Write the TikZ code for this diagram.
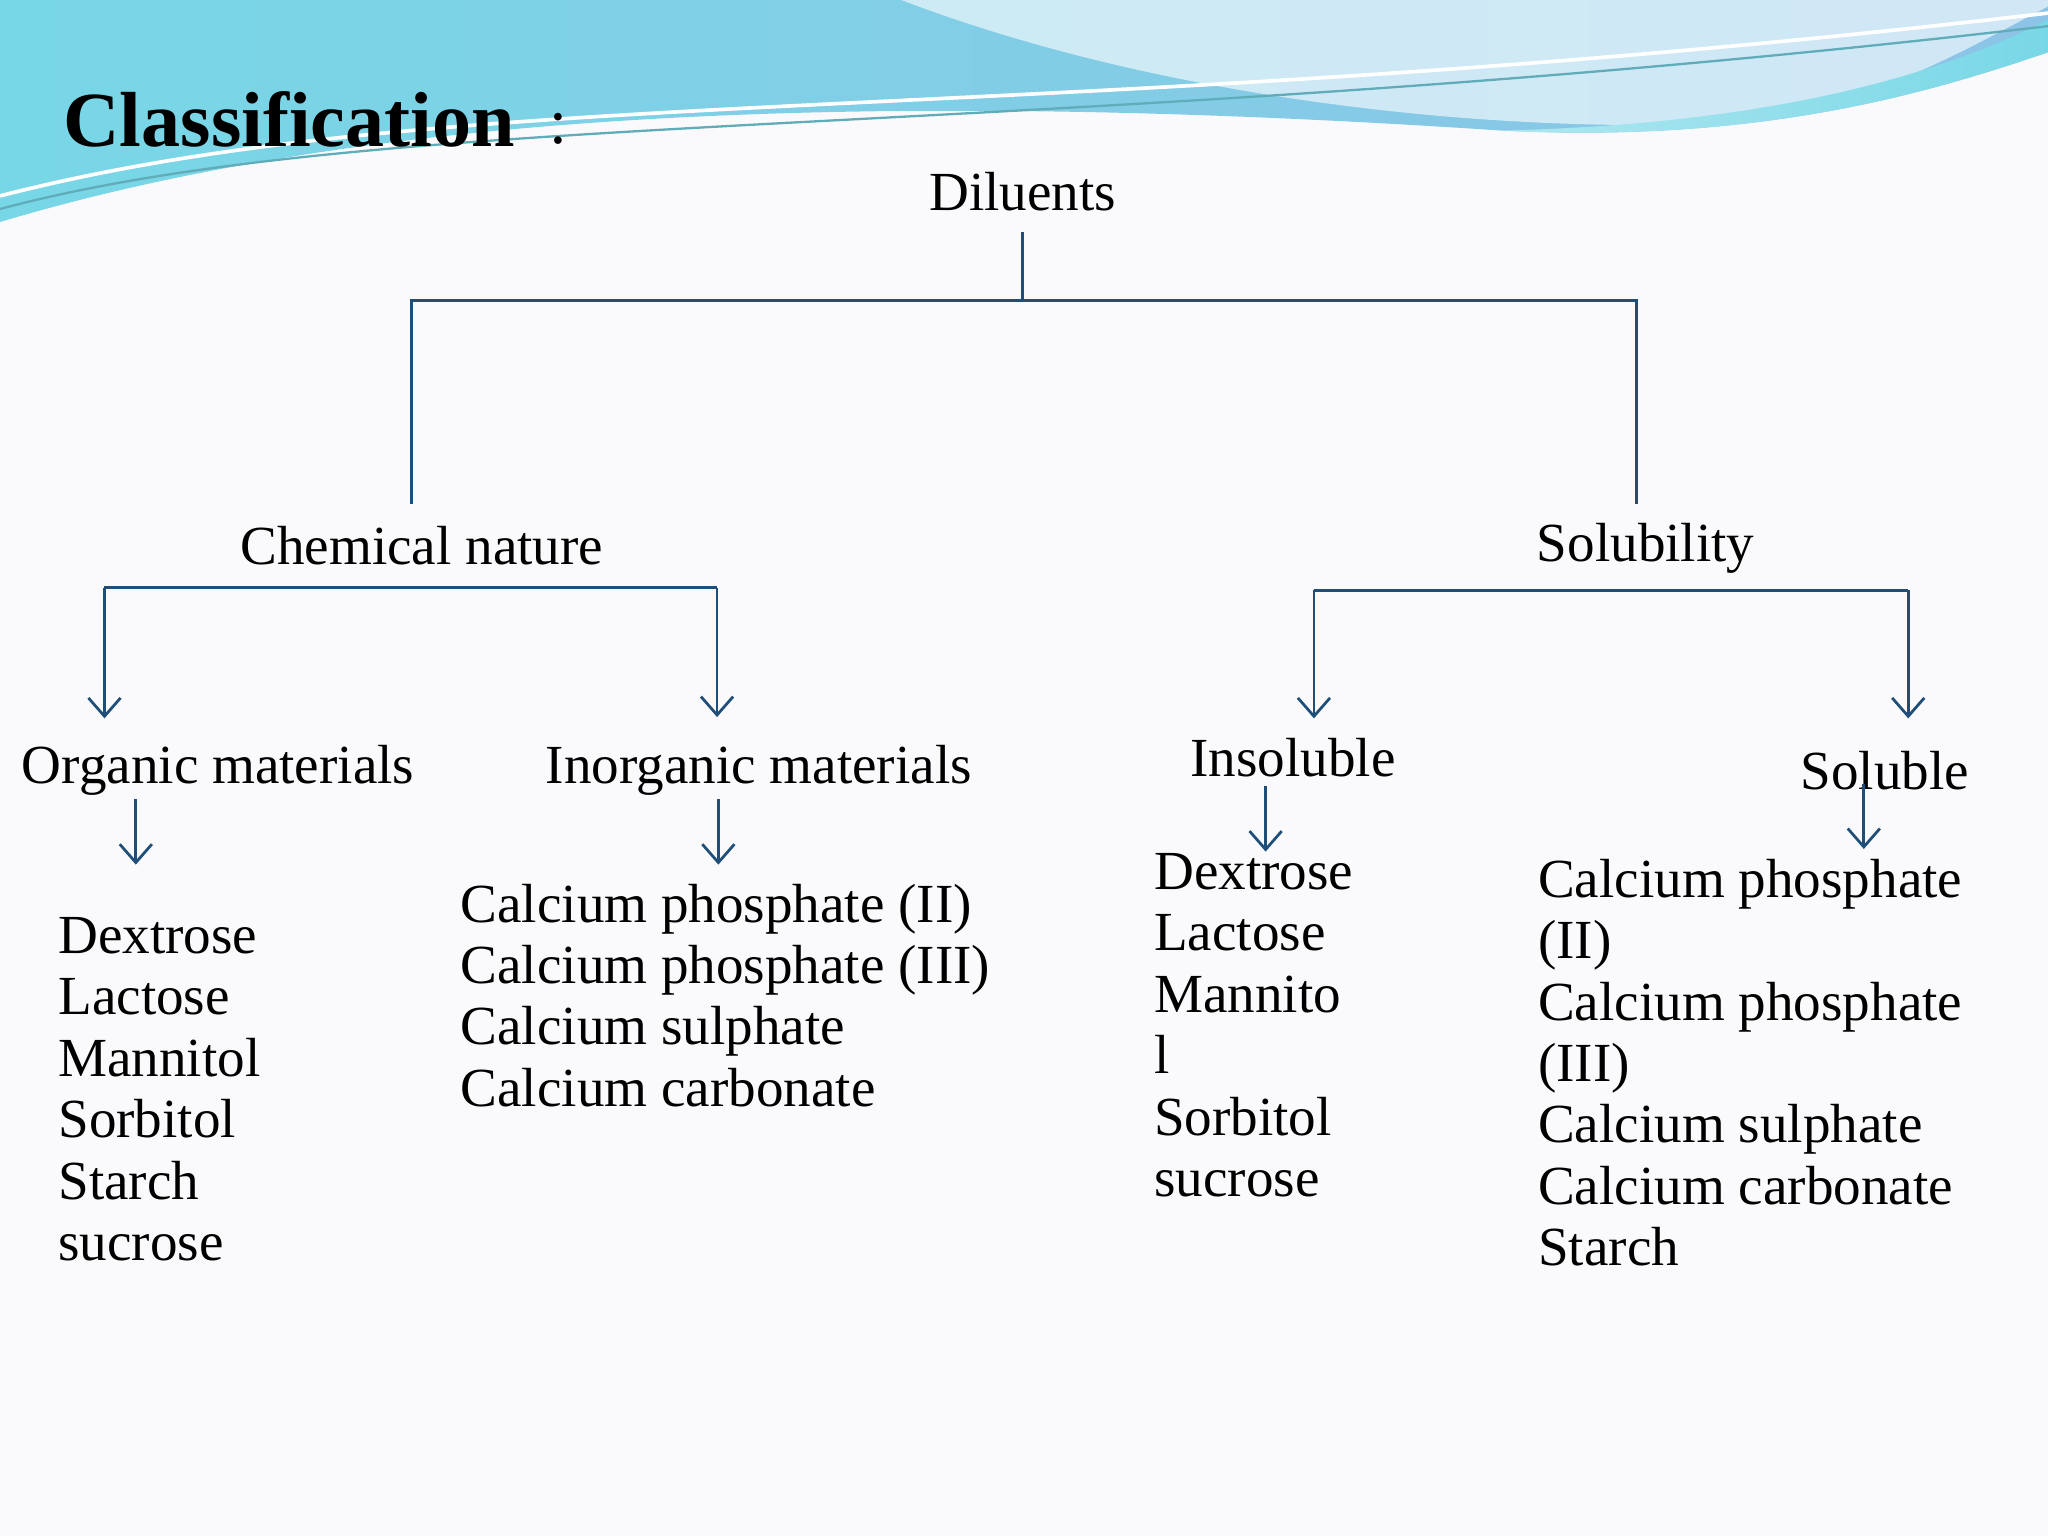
\documentclass[tikz,border=0pt]{standalone}
\usepackage{fontspec}
\setmainfont{Liberation Serif}
\definecolor{ln}{RGB}{31,78,121}
\definecolor{bg}{RGB}{250,250,252}
\definecolor{cy}{RGB}{120,215,230}
\definecolor{bl}{RGB}{140,195,230}
\usetikzlibrary{arrows.meta}
\begin{document}
\begin{tikzpicture}[x=0.01cm,y=-0.01cm,
  lbl/.style={font=\fontsize{12}{14}\selectfont, inner sep=0pt},
  lst/.style={font=\fontsize{12}{13.4}\selectfont, inner sep=0pt, anchor=base west},
  con/.style={draw=ln, line width=0.6pt},
  arr/.style={con, -{Straight Barb[length=4pt,width=7pt]}}]
\fill[bg] (0,0) rectangle (1568,1176);
\useasboundingbox (0,0) rectangle (1568,1176);
% banner
\shade[left color=cy, right color=bl] (0,0) -- (0,170) .. controls (300,80) and (700,70) .. (1150,100) .. controls (1350,110) and (1480,70) .. (1568,40) -- (1568,0) -- cycle;
\fill[white, opacity=0.6] (690,0) .. controls (900,80) and (1150,100) .. (1300,95) .. controls (1420,90) and (1500,40) .. (1568,5) -- (1568,0) -- cycle;
\shade[left color=cy!60, right color=cy] (1150,100) .. controls (1350,110) and (1480,70) .. (1568,40) -- (1568,15) .. controls (1480,60) and (1350,95) .. (1150,100);
\draw[cy!80!black, line width=0.5pt] (0,160) .. controls (300,80) and (800,110) .. (1568,20);
\draw[white, line width=0.8pt] (0,150) .. controls (350,60) and (800,100) .. (1568,10);
% title
\node[anchor=base west, inner sep=0pt, font=\fontsize{17}{20}\selectfont\bfseries] (title) at (48,112) {Classification};
\node[anchor=base west, inner sep=0pt, font=\fontsize{14}{16}\selectfont] (colon) at (420,110) {:};
% nodes
\node[lbl] (dil) at (783,147) {Diluents};
\node[lbl] (chem) at (323,418) {Chemical nature};
\node[lbl] (sol) at (1260,420) {Solubility};
\node[lbl] (org) at (167,590) {Organic materials};
\node[lbl] (inorg) at (581,590) {Inorganic materials};
\node[lbl] (ins) at (990,580) {Insoluble};
\node[lbl] (slb) at (1443,590) {Soluble};
% tree lines
\coordinate (d0) at (783,178); \coordinate (d1) at (783,230);
\coordinate (hl) at (315,230); \coordinate (hr) at (1253,230);
\coordinate (cl) at (315,386); \coordinate (cr) at (1253,386);
\draw[con] (d0) -- (d1);
\draw[con] (cl) -- (hl) -- (hr) -- (cr);
\coordinate (c1) at (80,450); \coordinate (c2) at (549,450);
\coordinate (c1e) at (80,550); \coordinate (c2e) at (549,549);
\draw[con] (c1) -- (c2);
\draw[arr] (c1) -- (c1e); \draw[arr] (c2) -- (c2e);
\coordinate (s1) at (1006,452); \coordinate (s2) at (1461,452);
\coordinate (s1e) at (1006,550); \coordinate (s2e) at (1461,550);
\draw[con] (s1) -- (s2);
\draw[arr] (s1) -- (s1e); \draw[arr] (s2) -- (s2e);
\coordinate (o1) at (104,612); \coordinate (o2) at (104,662);
\draw[arr] (o1) -- (o2);
\coordinate (i1) at (550,612); \coordinate (i2) at (550,662);
\draw[arr] (i1) -- (i2);
\coordinate (n1) at (969,602); \coordinate (n2) at (969,652);
\draw[arr] (n1) -- (n2);
\coordinate (u1) at (1427,600); \coordinate (u2) at (1427,650);
\draw[arr] (u1) -- (u2);
% lists
\node[lst] (l1) at (44,730) {Dextrose};
\node[lst] (l2) at (44,777) {Lactose};
\node[lst] (l3) at (44,824) {Mannitol};
\node[lst] (l4) at (44,871) {Sorbitol};
\node[lst] (l5) at (44,918) {Starch};
\node[lst] (l6) at (44,965) {sucrose};
\node[lst] (m1) at (352,706) {Calcium phosphate (II)};
\node[lst] (m2) at (352,753) {Calcium phosphate (III)};
\node[lst] (m3) at (352,800) {Calcium sulphate};
\node[lst] (m4) at (352,847) {Calcium carbonate};
\node[lst] (n1t) at (883,681) {Dextrose};
\node[lst] (n2t) at (883,728) {Lactose};
\node[lst] (n3t) at (883,775) {Mannito};
\node[lst] (n4t) at (883,822) {l};
\node[lst] (n5t) at (883,869) {Sorbitol};
\node[lst] (n6t) at (883,916) {sucrose};
\node[lst] (p1) at (1177,687) {Calcium phosphate};
\node[lst] (p2) at (1177,734) {(II)};
\node[lst] (p3) at (1177,781) {Calcium phosphate};
\node[lst] (p4) at (1177,828) {(III)};
\node[lst] (p5) at (1177,875) {Calcium sulphate};
\node[lst] (p6) at (1177,922) {Calcium carbonate};
\node[lst] (p7) at (1177,969) {Starch};
\end{tikzpicture}
\end{document}
